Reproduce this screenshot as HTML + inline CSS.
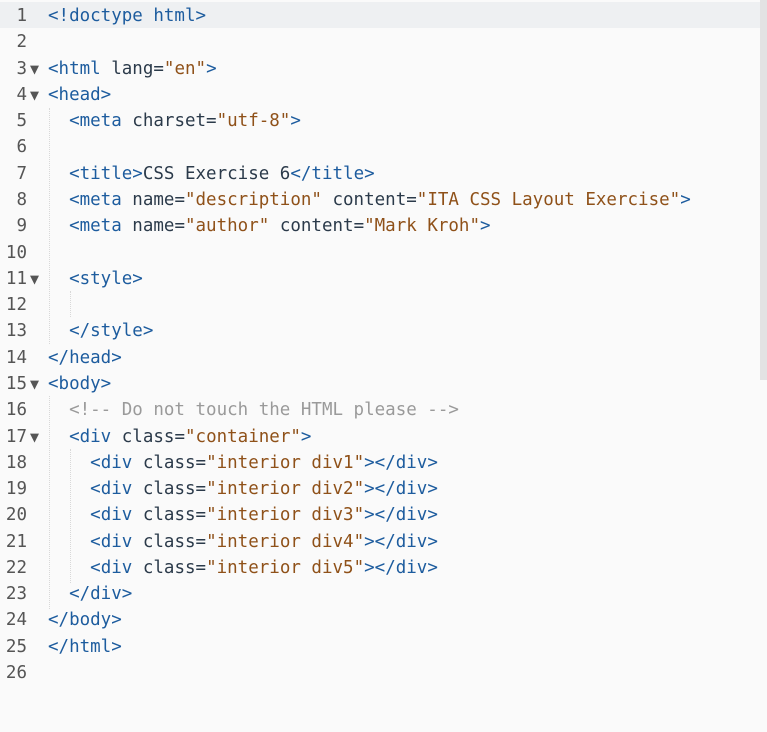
<!DOCTYPE html>
<html><head><meta charset="utf-8"><style>
body{margin:0;width:767px;height:732px;background:#fafafa;overflow:hidden;position:relative;font-family:"DejaVu Sans Mono","Liberation Mono",monospace;font-size:17.5px;}
.hl{position:absolute;left:0;top:2px;width:760px;height:26px;background:#eef0f2;}
.sb{position:absolute;left:760px;top:0;width:7px;height:380px;background:#e3e3e3;}
.ln{position:absolute;left:0;width:27px;text-align:right;color:#555;}
.tr{position:absolute;left:30px;color:#555;font-size:15px;}
.code{position:absolute;left:48px;white-space:pre;color:#2b3a4a;}
.l{position:absolute;height:26.2px;line-height:26.2px;}
.t{color:#1d5c9e}.s{color:#8f5119}.c{color:#9a9a9a}
.g{position:absolute;width:0;border-left:1px dotted #d8d8d8;}
</style></head><body>
<div class="hl"></div><div class="sb"></div>
<div class="g" style="left:49px;top:108px;height:236px"></div>
<div class="g" style="left:49px;top:396px;height:213px"></div>
<div class="g" style="left:70px;top:291px;height:26px"></div>
<div class="g" style="left:70px;top:449px;height:134px"></div>
<div id="r"></div>
<script>
var lines=[
'<span class="t">&lt;!doctype html&gt;</span>','',
'<span class="t">&lt;html</span> lang=<span class="s">"en"</span><span class="t">&gt;</span>',
'<span class="t">&lt;head&gt;</span>',
'  <span class="t">&lt;meta</span> charset=<span class="s">"utf-8"</span><span class="t">&gt;</span>','',
'  <span class="t">&lt;title&gt;</span>CSS Exercise 6<span class="t">&lt;/title&gt;</span>',
'  <span class="t">&lt;meta</span> name=<span class="s">"description"</span> content=<span class="s">"ITA CSS Layout Exercise"</span><span class="t">&gt;</span>',
'  <span class="t">&lt;meta</span> name=<span class="s">"author"</span> content=<span class="s">"Mark Kroh"</span><span class="t">&gt;</span>','',
'  <span class="t">&lt;style&gt;</span>','',
'  <span class="t">&lt;/style&gt;</span>',
'<span class="t">&lt;/head&gt;</span>',
'<span class="t">&lt;body&gt;</span>',
'  <span class="c">&lt;!-- Do not touch the HTML please --&gt;</span>',
'  <span class="t">&lt;div</span> class=<span class="s">"container"</span><span class="t">&gt;</span>',
'    <span class="t">&lt;div</span> class=<span class="s">"interior div1"</span><span class="t">&gt;&lt;/div&gt;</span>',
'    <span class="t">&lt;div</span> class=<span class="s">"interior div2"</span><span class="t">&gt;&lt;/div&gt;</span>',
'    <span class="t">&lt;div</span> class=<span class="s">"interior div3"</span><span class="t">&gt;&lt;/div&gt;</span>',
'    <span class="t">&lt;div</span> class=<span class="s">"interior div4"</span><span class="t">&gt;&lt;/div&gt;</span>',
'    <span class="t">&lt;div</span> class=<span class="s">"interior div5"</span><span class="t">&gt;&lt;/div&gt;</span>',
'  <span class="t">&lt;/div&gt;</span>',
'<span class="t">&lt;/body&gt;</span>',
'<span class="t">&lt;/html&gt;</span>',''];
var fold={3:1,4:1,11:1,15:1,17:1};var h='';
for(var i=0;i<lines.length;i++){var y=(3+i*26.28).toFixed(1);
h+='<div class="l ln" style="top:'+y+'px">'+(i+1)+'</div>';
if(fold[i+1])h+='<div class="l tr" style="top:'+y+'px">&#9660;</div>';
h+='<div class="l code" style="top:'+y+'px">'+lines[i]+'</div>';}
document.getElementById('r').innerHTML=h;
</script>
</body></html>
